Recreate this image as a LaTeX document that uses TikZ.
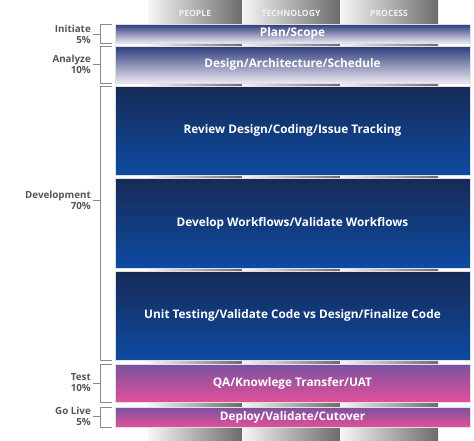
\documentclass[tikz,border=0pt]{standalone}
\usepackage{fontspec}
\setmainfont{Open Sans}
\usepackage{xcolor}
\definecolor{pillarlight}{HTML}{F6F6F6}
\definecolor{pillardark}{HTML}{6C6C6C}
\definecolor{planblue}{HTML}{2B3A7B}
\definecolor{planmid}{HTML}{7272A8}
\definecolor{planpale}{HTML}{ECE8F2}
\definecolor{devtop}{HTML}{172A56}
\definecolor{devbottom}{HTML}{0D4BA3}
\definecolor{testtop}{HTML}{7952A0}
\definecolor{testbottom}{HTML}{E2509B}
\definecolor{brkgrey}{HTML}{8A8A8A}
\definecolor{lblgrey}{HTML}{555555}
\newcommand{\pillar}[4]{
\shade[left color=pillarlight, right color=pillardark] (#1,0) rectangle (#2,-440);
\node[pillarlbl] (#3) at (#1/2+#2/2,-13) {#4};
}
\newcommand{\stage}[5]{
\node[stagebox, #4, minimum height={(#3-#2)*1pt}] (#1) at (292.5,{-(#2+#3)/2}) {#5};
}
\newcommand{\phase}[6]{
\draw[brk] (112,-#2) -| (100,-#3) -- (112,-#3);
\draw[brk] (100,-#4) -- (93,-#4) coordinate (#1);
\node[phaselbl] (#1lbl) at (#1) {#5\\#6};
}
\usepackage{tikz}

\begin{document}
\begin{tikzpicture}[x=1pt,y=1pt,
  pillarlbl/.style={text=white!94!black, font=\fontsize{8.6}{9}\selectfont\bfseries},
  stagebox/.style={minimum width=355pt, inner sep=0pt, draw=black!12, line width=0.6pt,
    text=white, font=\fontsize{11.8}{13}\selectfont\bfseries},
  planbox/.style={top color=planblue, middle color=planmid, bottom color=planpale},
  devbox/.style={top color=devtop, bottom color=devbottom},
  testbox/.style={top color=testtop, bottom color=testbottom},
  brk/.style={draw=brkgrey, line width=0.7pt},
  phaselbl/.style={anchor=east, align=right, inner sep=2pt, text=lblgrey,
    font=\fontsize{9.8}{11}\selectfont\bfseries}]

\useasboundingbox (0,0) rectangle (474,-440);

\pillar{148}{242}{people}{PEOPLE}
\pillar{242}{340}{technology}{TECHNOLOGY}
\pillar{340}{438}{process}{PROCESS}

\stage{plan}{24}{43}{planbox}{Plan/Scope}
\stage{design}{46}{83}{planbox}{Design/Architecture/Schedule}
\stage{review}{86}{175}{devbox}{Review Design/Coding/Issue Tracking}
\stage{workflows}{178}{268}{devbox}{Develop Workflows/Validate Workflows}
\stage{unittest}{271}{360}{devbox}{Unit Testing/Validate Code vs Design/Finalize Code}
\stage{qa}{364}{402}{testbox}{QA/Knowlege Transfer/UAT}
\stage{deploy}{407}{427}{testbox}{Deploy/Validate/Cutover}

\phase{initiate}{24}{43}{34}{Initiate}{5\%}
\phase{analyze}{46}{83}{64}{Analyze}{10\%}
\phase{development}{86}{360}{200}{Development}{70\%}
\phase{test}{364}{402}{383}{Test}{10\%}
\phase{golive}{407}{427}{416}{Go Live}{5\%}

\end{tikzpicture}
\end{document}
